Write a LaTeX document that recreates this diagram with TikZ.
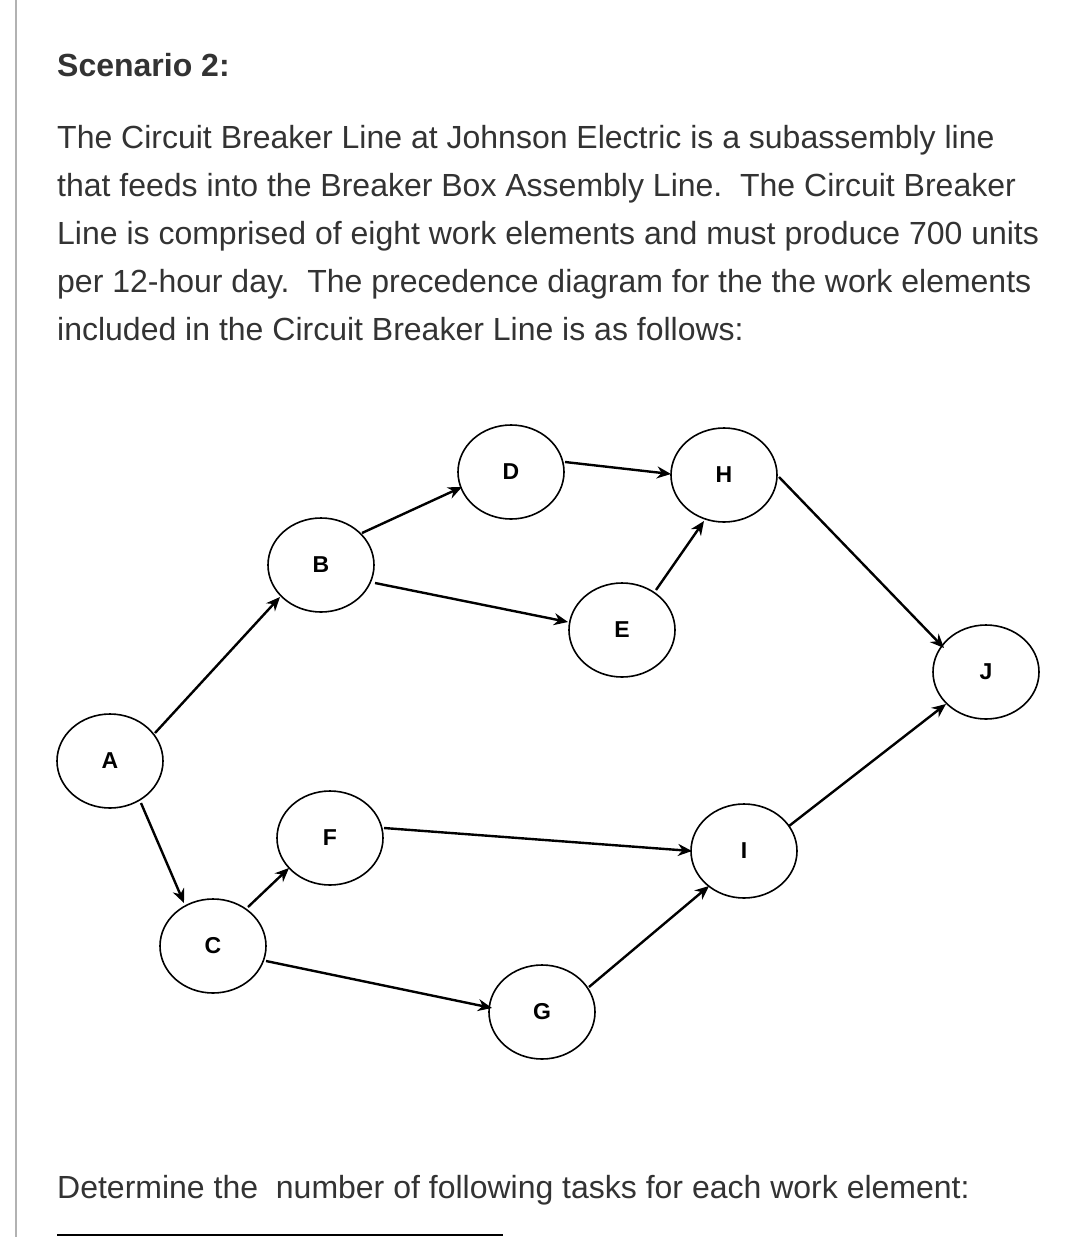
\documentclass[tikz,border=0pt]{standalone}
\usepackage{fontspec}
\setmainfont{Liberation Sans}
\usetikzlibrary{arrows.meta,shapes.geometric}
\definecolor{txt}{HTML}{333333}
\tikzset{
  task/.style={draw=black, line width=1.6pt, ellipse, minimum width=106pt, minimum height=94pt, inner sep=0pt, font=\fontsize{23}{26}\selectfont\bfseries},
  arr/.style={line width=2.4pt, -{Stealth[length=14pt,width=12pt]}},
  para/.style={anchor=base west, text=txt, font=\fontsize{32}{36}\selectfont, inner sep=0pt}
}
\begin{document}
\begin{tikzpicture}[x=1pt,y=-1pt]
\useasboundingbox[fill=white] (0,0) rectangle (1084,1237);
\draw[line width=1.5pt, gray!60] (16,0) -- (16,1237);
\node[para, font=\fontsize{32}{36}\selectfont\bfseries] (title) at (57,76) {Scenario 2:};
\node[para] (l1) at (57,148) {The Circuit Breaker Line at Johnson Electric is a subassembly line};
\node[para] (l2) at (57,196) {that feeds into the Breaker Box Assembly Line.\ \ The Circuit Breaker};
\node[para] (l3) at (57,244) {Line is comprised of eight work elements and must produce 700 units};
\node[para] (l4) at (57,292) {per 12-hour day.\ \ The precedence diagram for the the work elements};
\node[para] (l5) at (57,340) {included in the Circuit Breaker Line is as follows:};
\node[para] (l6) at (57,1198) {Determine the\ \ number of following tasks for each work element:};
\draw[line width=1.5pt, black] (57,1235) -- (503,1235);

\node[task] (A) at (110,761) {A};
\node[task] (B) at (321,565) {B};
\node[task] (D) at (511,472) {D};
\node[task] (H) at (724,475) {H};
\node[task] (E) at (622,630) {E};
\node[task] (J) at (986,672) {J};
\node[task] (F) at (330,838) {F};
\node[task] (I) at (744,851) {I};
\node[task] (C) at (213,946) {C};
\node[task] (G) at (542,1012) {G};

\coordinate (ab1) at (155,733); \coordinate (ab2) at (280,597);
\coordinate (ac1) at (141,803); \coordinate (ac2) at (184,903);
\coordinate (bd1) at (362,533); \coordinate (bd2) at (462,487);
\coordinate (be1) at (375,583); \coordinate (be2) at (568,622);
\coordinate (dh1) at (565,462); \coordinate (dh2) at (671,474);
\coordinate (eh1) at (656,590); \coordinate (eh2) at (704,521);
\coordinate (hj1) at (779,477); \coordinate (hj2) at (944,648);
\coordinate (cf1) at (248,907); \coordinate (cf2) at (289,868);
\coordinate (fi1) at (384,828); \coordinate (fi2) at (692,851);
\coordinate (cg1) at (266,961); \coordinate (cg2) at (492,1008);
\coordinate (gi1) at (589,987); \coordinate (gi2) at (709,886);
\coordinate (ij1) at (789,826); \coordinate (ij2) at (946,704);

\foreach \p in {ab,ac,bd,be,dh,eh,hj,cf,fi,cg,gi,ij}
  \draw[arr] (\p1) -- (\p2);
\end{tikzpicture}
\end{document}
